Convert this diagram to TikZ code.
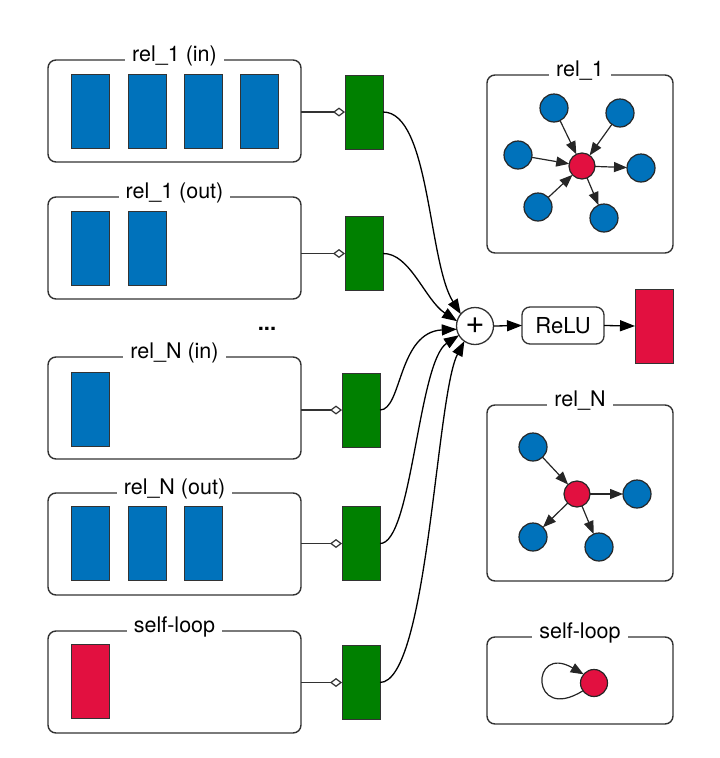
\documentclass[tikz,border=0pt]{standalone}
\usepackage{fontspec}
\setmainfont{TeX Gyre Heros}
\usetikzlibrary{arrows.meta}
\definecolor{cblue}{RGB}{0,114,187}
\definecolor{cgreen}{RGB}{0,128,0}
\definecolor{cred}{RGB}{226,16,64}
\definecolor{cline}{RGB}{50,50,50}
\begin{document}
\begin{tikzpicture}[x=1pt,y=-1pt,
  every node/.style={inner sep=0pt, outer sep=0pt},
  frame/.style={draw=cline, line width=1.4pt, rounded corners=8pt, minimum width=253pt, minimum height=102pt},
  rframe/.style={draw=cline, line width=1.4pt, rounded corners=8pt, minimum width=186pt},
  title/.style={fill=white, inner xsep=7pt, inner ysep=3pt, anchor=base, font=\fontsize{21.5}{25}\selectfont},
  brect/.style={draw=black!80, line width=1pt, fill=cblue, minimum width=38pt, minimum height=74pt},
  grect/.style={draw=black!80, line width=1pt, fill=cgreen, minimum width=38pt, minimum height=74pt},
  rrect/.style={draw=black!80, line width=1pt, fill=cred, minimum width=38pt, minimum height=74pt},
  conn/.style={draw=cline, line width=1.2pt, -{Diamond[open, length=12pt, width=9pt]}},
  marrow/.style={draw=black, line width=1.3pt, -{Triangle[length=15pt, width=11pt]}},
  bnode/.style={circle, draw=black!85, line width=1.2pt, fill=cblue, minimum size=28pt},
  rnode/.style={circle, draw=black!85, line width=1.2pt, fill=cred, minimum size=26pt},
  garrow/.style={draw=black!85, line width=1.2pt, -{Triangle[length=13pt, width=10pt]}}
]
\useasboundingbox (0,0) rectangle (720,758);

% left frames
\node[frame] (box1) at (174.5,111) {};
\node[frame] (box2) at (174.5,248) {};
\node[frame] (box3) at (174.5,408) {};
\node[frame] (box4) at (174.5,544) {};
\node[frame] (box5) at (174.5,682) {};
\node[title] (t1) at ([yshift=-1pt]box1.north) {rel\_1 (in)};
\node[title] (t2) at ([yshift=-1pt]box2.north) {rel\_1 (out)};
\node[title] (t3) at ([yshift=-1pt]box3.north) {rel\_N (in)};
\node[title] (t4) at ([yshift=-1pt]box4.north) {rel\_N (out)};
\node[title] (t5) at ([yshift=-1pt]box5.north) {self-loop};

% feature rectangles
\node[brect] (b11) at (90,111) {};
\node[brect] (b12) at (147,111) {};
\node[brect] (b13) at (203,111) {};
\node[brect] (b14) at (259.5,111) {};
\node[brect] (b21) at (90,248.5) {};
\node[brect] (b22) at (147,248.5) {};
\node[brect] (b31) at (90,409) {};
\node[brect] (b41) at (90,543.5) {};
\node[brect] (b42) at (147,543.5) {};
\node[brect] (b43) at (203,543.5) {};
\node[rrect] (b51) at (90,681) {};

\node[font=\bfseries\fontsize{22}{24}\selectfont] (dots) at (267,329) {...};

% green transformed
\node[grect] (g1) at (364,112) {};
\node[grect] (g2) at (364,253.5) {};
\node[grect] (g3) at (361,410) {};
\node[grect] (g4) at (361,543.5) {};
\node[grect] (g5) at (361,682.5) {};

\draw[conn] (g1.west -| box1.east) -- (g1.west);
\draw[conn] (g2.west -| box2.east) -- (g2.west);
\draw[conn] (g3.west -| box3.east) -- (g3.west);
\draw[conn] (g4.west -| box4.east) -- (g4.west);
\draw[conn] (g5.west -| box5.east) -- (g5.west);

% sum, relu, output
\node[circle, draw=cline, line width=1.3pt, minimum size=37pt, font=\fontsize{33}{34}\selectfont] (plus) at (475,326) {+};
\node[draw=cline, line width=1.3pt, rounded corners=8pt, minimum width=82pt, minimum height=37pt, font=\fontsize{22}{25}\selectfont] (relu) at (563,325.5) {ReLU};
\node[rrect] (out) at (654,326) {};

\draw[marrow] (g1.east) .. controls (430,112) and (428,262) .. (plus.140);
\draw[marrow] (g2.east) .. controls (410,253) and (425,300) .. (plus.165);
\draw[marrow] (g3.east) .. controls (402,410) and (398,332) .. (plus.190);
\draw[marrow] (g4.east) .. controls (412,544) and (418,362) .. (plus.210);
\draw[marrow] (g5.east) .. controls (428,682) and (436,395) .. (plus.235);
\draw[marrow] (plus.east) -- (relu.west);
\draw[marrow] (relu.east) -- (out.west);

% right frames
\node[rframe, minimum height=178pt] (rb1) at (580,164) {};
\node[rframe, minimum height=176pt] (rb2) at (580,493) {};
\node[rframe, minimum height=87pt] (rb3) at (580,680.5) {};
\node[title] (rt1) at ([yshift=-1pt]rb1.north) {rel\_1};
\node[title] (rt2) at ([yshift=-1pt]rb2.north) {rel\_N};
\node[title] (rt3) at ([yshift=-1pt]rb3.north) {self-loop};

% rel_1 graph
\node[rnode] (c1) at (582,166) {};
\node[bnode] (n11) at (554,108) {};
\node[bnode] (n12) at (620,113) {};
\node[bnode] (n13) at (518,155) {};
\node[bnode] (n14) at (641,168) {};
\node[bnode] (n15) at (538,207) {};
\node[bnode] (n16) at (604,218) {};
\draw[garrow] (n11) -- (c1);
\draw[garrow] (n12) -- (c1);
\draw[garrow] (n13) -- (c1);
\draw[garrow] (n15) -- (c1);
\draw[garrow] (c1) -- (n14);
\draw[garrow] (c1) -- (n16);

% rel_N graph
\node[rnode] (c2) at (577,494) {};
\node[bnode] (n21) at (533,447) {};
\node[bnode] (n22) at (637,494) {};
\node[bnode] (n23) at (533,537) {};
\node[bnode] (n24) at (599,547) {};
\draw[garrow] (n21) -- (c2);
\draw[garrow] (c2) -- (n22);
\draw[garrow] (c2) -- (n23);
\draw[garrow] (c2) -- (n24);

% self-loop graph
\node[rnode, minimum size=27pt] (sl) at (594,683) {};
\draw[garrow] (sl.215) .. controls (530,724) and (530,643) .. (sl.140);
\end{tikzpicture}
\end{document}
